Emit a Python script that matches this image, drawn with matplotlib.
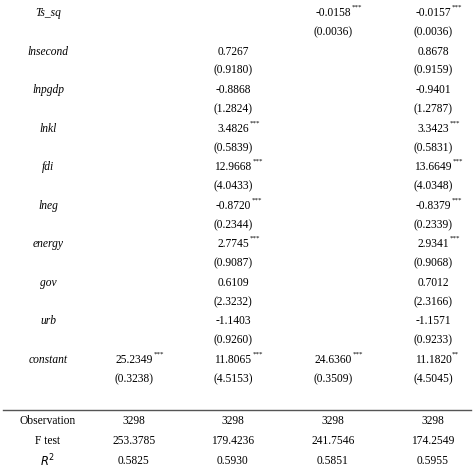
import matplotlib.pyplot as plt

plt.rcParams['font.family'] = ['Liberation Serif', 'DejaVu Serif']

variables = ['Ts_sq', 'lnsecond', 'lnpgdp', 'lnkl', 'fdi', 'lneg', 'energy', 'gov', 'urb', 'constant']
coefs = [
    ['', '', '-0.0158***', '-0.0157***'],
    ['', '0.7267', '', '0.8678'],
    ['', '-0.8868', '', '-0.9401'],
    ['', '3.4826***', '', '3.3423***'],
    ['', '12.9668***', '', '13.6649***'],
    ['', '-0.8720***', '', '-0.8379***'],
    ['', '2.7745***', '', '2.9341***'],
    ['', '0.6109', '', '0.7012'],
    ['', '-1.1403', '', '-1.1571'],
    ['25.2349***', '11.8065***', '24.6360***', '11.1820**'],
]
ses = [
    ['', '', '(0.0036)', '(0.0036)'],
    ['', '(0.9180)', '', '(0.9159)'],
    ['', '(1.2824)', '', '(1.2787)'],
    ['', '(0.5839)', '', '(0.5831)'],
    ['', '(4.0433)', '', '(4.0348)'],
    ['', '(0.2344)', '', '(0.2339)'],
    ['', '(0.9087)', '', '(0.9068)'],
    ['', '(2.3232)', '', '(2.3166)'],
    ['', '(0.9260)', '', '(0.9233)'],
    ['(0.3238)', '(4.5153)', '(0.3509)', '(4.5045)'],
]
stats_labels = ['Observation', 'F test', '$R^2$']
stats = [
    ['3298', '3298', '3298', '3298'],
    ['253.3785', '179.4236', '241.7546', '174.2549'],
    ['0.5825', '0.5930', '0.5851', '0.5955'],
]

fig = plt.figure(figsize=(4.74, 4.74), dpi=100)
ax = fig.add_axes([0, 0, 1, 1])
ax.set_xlim(0, 474)
ax.set_ylim(474, 0)
ax.axis('off')

xs = [48, 134, 233, 333, 433]
fs = 8.3


def cell(x, y, s):
    if s.endswith('*'):
        base = s.rstrip('*')
        stars = s[len(base):]
        t = ax.text(x, y, base, ha='center', va='center', fontsize=fs)
        ax.annotate(stars, xy=(1, 1), xycoords=t, xytext=(0.5, 1.5),
                    textcoords='offset points', ha='left', va='top', fontsize=5)
    else:
        ax.text(x, y, s, ha='center', va='center', fontsize=fs)


y0 = 13
step = 19.26
for i, v in enumerate(variables):
    yc = y0 + 2 * i * step
    ax.text(xs[0], yc, v, ha='center', va='center', fontsize=fs, style='italic')
    for j in range(4):
        cell(xs[j + 1], yc, coefs[i][j])
        cell(xs[j + 1], yc + step, ses[i][j])

ax.plot([3, 471], [410, 410], color='#555555', lw=1.0)
for i, lab in enumerate(stats_labels):
    yc = 421 + 20 * i
    ax.text(xs[0], yc, lab, ha='center', va='center', fontsize=fs)
    for j in range(4):
        ax.text(xs[j + 1], yc, stats[i][j], ha='center', va='center', fontsize=fs)

fig.savefig('out.png', dpi=100)
